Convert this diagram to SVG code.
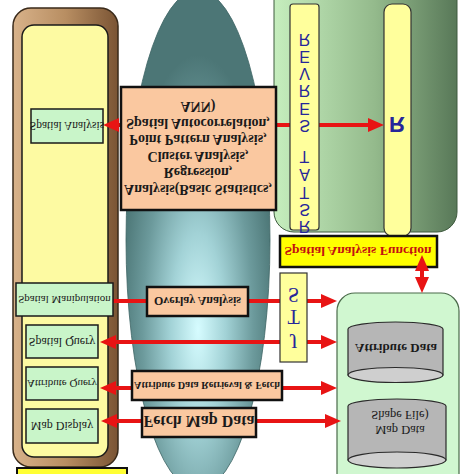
<svg xmlns="http://www.w3.org/2000/svg" width="474" height="474" viewBox="0 0 474 474">
<defs>
<style>
.mod{fill:#c9f5c9;stroke:#1a1a1a;stroke-width:1.5}
.peach{fill:#fac8a0;stroke:#111;stroke-width:2.5}
.lbl{font-family:"Liberation Serif",serif;fill:#1a1a1a;text-anchor:middle}
.b{font-weight:bold}
.blue{font-family:"Liberation Sans",Arial,sans-serif;fill:#26269a;text-anchor:middle;font-size:16px}
.arr{stroke:#e81414;stroke-width:4;fill:none}
.col{fill:#ffff9c;stroke:#333;stroke-width:1.2}
.cyl{fill:#b6b6b6;stroke:#2a2a2a;stroke-width:1.2}
.cyltop{fill:#cfcfcf;stroke:#2a2a2a;stroke-width:1.2}
</style>
<marker id="ah" markerWidth="16" markerHeight="14" refX="8" refY="7" orient="auto-start-reverse" markerUnits="userSpaceOnUse">
<path d="M0,0 L16,7 L0,14 z" fill="#e81414"/>
</marker>
<linearGradient id="brown" x1="0" y1="0" x2="1" y2="0">
<stop offset="0" stop-color="#d8b28a"/>
<stop offset="0.5" stop-color="#b88e62"/>
<stop offset="1" stop-color="#7a5434"/>
</linearGradient>
<linearGradient id="green" x1="0" y1="0" x2="1" y2="0">
<stop offset="0" stop-color="#c6eebe"/>
<stop offset="0.55" stop-color="#94ba8c"/>
<stop offset="1" stop-color="#587858"/>
</linearGradient>
<radialGradient id="lens" cx="0.5" cy="0.32" r="0.55">
<stop offset="0" stop-color="#d6fcff"/>
<stop offset="0.35" stop-color="#a2d2d6"/>
<stop offset="0.7" stop-color="#6c9a9c"/>
<stop offset="1" stop-color="#4c7676"/>
</radialGradient>
</defs>
<g transform="matrix(1 0 0 -1 0 474)">
<g id="client-panel">
<rect x="13" y="7" width="105" height="459" rx="18" fill="url(#brown)" stroke="#3a2a1a" stroke-width="1.5"/>
<rect x="22" y="17" width="86" height="432" rx="12" fill="#fdfaa2" stroke="#1a1a1a" stroke-width="1.5"/>
</g>
<g id="lens-shape">
<ellipse cx="198" cy="234" rx="72" ry="250" fill="url(#lens)" stroke="#3e6464" stroke-width="0.8"/>
</g>
<g id="server-panel">
<rect x="274" y="242" width="183" height="252" rx="20" fill="url(#green)" stroke="#3e5a3e" stroke-width="1"/>
<rect x="384" y="238" width="27" height="232" rx="8" class="col"/>
<text x="397" y="357" class="blue" style="font-size:22px;font-weight:bold">R</text>
</g>
<g id="connectors-top">
<line x1="276" y1="349" x2="376" y2="349" class="arr" marker-end="url(#ah)"/>
<line x1="121" y1="349" x2="111" y2="349" class="arr" marker-end="url(#ah)"/>
</g>
<g id="stat-server">
<rect x="290" y="244" width="29" height="226" rx="3" class="col"/>
<text class="blue"><tspan x="304.5" y="253.5">R</tspan><tspan x="304.5" y="270.5">S</tspan><tspan x="304.5" y="287.5">T</tspan><tspan x="304.5" y="305.5">A</tspan><tspan x="304.5" y="323.5">T</tspan><tspan x="304.5" y="354.5">S</tspan><tspan x="304.5" y="371.5">E</tspan><tspan x="304.5" y="389.5">R</tspan><tspan x="304.5" y="406.5">V</tspan><tspan x="304.5" y="423.5">E</tspan><tspan x="304.5" y="440.5">R</tspan></text>
</g>
<g id="analysis-box">
<rect x="121" y="264" width="155" height="123" class="peach"/>
<text class="lbl b" style="font-size:14px"><tspan x="198" y="289">Analysis(Basic Statistics,</tspan><tspan x="198" y="305.6">Regression,</tspan><tspan x="198" y="322.2">Cluster Analysis,</tspan><tspan x="198" y="338.8">Point Pattern Analysis,</tspan><tspan x="198" y="355.4">Spatial Autocorrelation,</tspan><tspan x="198" y="372">ANN)</tspan></text>
</g>
<g id="db-container">
<rect x="337" y="-30" width="122" height="211" rx="18" fill="#d0f7d0" stroke="#4a6a4a" stroke-width="1.2"/>
</g>
<g id="connectors">
<line x1="113" y1="173" x2="329" y2="173" class="arr" marker-end="url(#ah)"/>
<line x1="108" y1="132" x2="329" y2="132" class="arr" marker-start="url(#ah)" marker-end="url(#ah)"/>
<line x1="108" y1="86" x2="329" y2="86" class="arr" marker-start="url(#ah)" marker-end="url(#ah)"/>
<line x1="109" y1="53" x2="333" y2="53" class="arr" marker-start="url(#ah)" marker-end="url(#ah)"/>
</g>
<g id="spatial-analysis">
<rect x="31" y="331" width="72" height="34" class="mod"/>
<text x="67" y="352" class="lbl" style="font-size:11.5px">Spatial Analysis</text>
</g>
<g id="spatial-manipulation">
<rect x="16" y="158" width="97" height="33" class="mod"/>
<text x="64.5" y="178.5" class="lbl" style="font-size:11px">Spatial Manipulation</text>
</g>
<g id="spatial-query">
<rect x="26" y="116" width="72" height="33" class="mod"/>
<text x="62" y="136.5" class="lbl" style="font-size:12px">Spatial Query</text>
</g>
<g id="attribute-query">
<rect x="26" y="74" width="72" height="33" class="mod"/>
<text x="62" y="94.5" class="lbl" style="font-size:11px">Attribute Query</text>
</g>
<g id="map-display">
<rect x="26" y="31" width="72" height="34" class="mod"/>
<text x="62" y="52" class="lbl" style="font-size:12px">Map Display</text>
</g>
<g id="overlay-analysis">
<rect x="147" y="158" width="101" height="29" class="peach"/>
<text x="197.5" y="177" class="lbl b" style="font-size:12px">Overlay Analysis</text>
</g>
<g id="attribute-retrieval">
<rect x="132" y="74" width="150" height="29" class="peach"/>
<text x="207" y="92.5" class="lbl b" style="font-size:11px" textLength="146" lengthAdjust="spacingAndGlyphs">Attribute Data Retrieval &amp; Fetch</text>
</g>
<g id="fetch-map-data">
<rect x="142" y="37" width="114" height="29" class="peach"/>
<text x="199" y="58.5" class="lbl b" style="font-size:16px">Fetch Map Data</text>
</g>
<g id="jts">
<rect x="280" y="112" width="27" height="89" class="col"/>
<text class="lbl" style="font-size:20px;fill:#26269a"><tspan x="293.5" y="139.6">J</tspan><tspan x="293.5" y="163.6">T</tspan><tspan x="293.5" y="185.6">S</tspan></text>
</g>
<g id="attribute-data">
<path d="M348,99 L348,145 A47.5,7 0 0 0 443,145 L443,99 Z" class="cyl"/>
<ellipse cx="395.5" cy="99" rx="47.5" ry="7.5" class="cyltop"/>
<text x="396" y="130.5" class="lbl b" style="font-size:13px">Attribute Data</text>
</g>
<g id="map-data">
<path d="M348,14 L348,68 A49,7 0 0 0 446,68 L446,14 Z" class="cyl"/>
<ellipse cx="397" cy="14" rx="49" ry="8" class="cyltop"/>
<text class="lbl" style="font-size:12.5px"><tspan x="400" y="48.5">Map Data</tspan><tspan x="400" y="63">Shape File)</tspan></text>
</g>
<g id="function-box">
<rect x="280" y="207" width="157" height="31" fill="#ffff00" stroke="#111" stroke-width="2.5"/>
<text x="358" y="227" class="lbl b" style="font-size:13.5px;fill:#c41010">Spatial Analysis Function</text>
</g>
<g id="connector-vertical">
<line x1="422" y1="189" x2="422" y2="211" class="arr" marker-start="url(#ah)" marker-end="url(#ah)"/>
</g>
<g id="bottom-bar">
<rect x="17" y="-12" width="110" height="18" fill="#ffff33" stroke="#111" stroke-width="2"/>
</g>
</g>
</svg>
